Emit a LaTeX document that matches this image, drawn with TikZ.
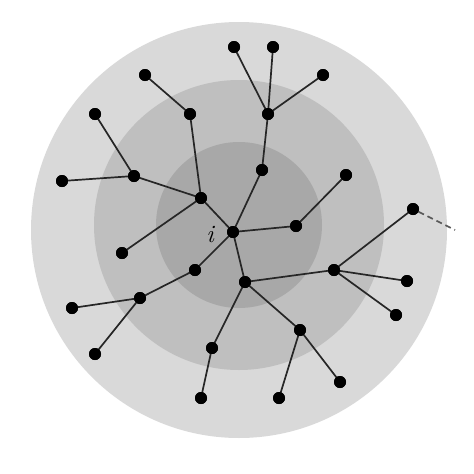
\documentclass[tikz,border=0pt]{standalone}
\begin{document}
\begin{tikzpicture}[x=1pt,y=-1pt,
  dot/.style={circle,fill=black,inner sep=0pt,minimum size=12pt},
  edge/.style={draw=black!85,line width=1.7pt},
  ring/.style={draw=none}]
\useasboundingbox (0,0) rectangle (474,474);
\fill[white] (0,0) rectangle (474,474);
\fill[ring,fill=black!15] (239,230) circle (208);
\fill[ring,fill=black!25] (239,225) circle (145);
\fill[ring,fill=black!34] (239,225) circle (83);
% nodes
\node[dot] (c) at (233,232) {};
\node[dot] (A) at (201,198) {};
\node[dot] (B) at (134,176) {};
\node[dot] (C) at (62,181) {};
\node[dot] (D) at (95,114) {};
\node[dot] (E) at (190,114) {};
\node[dot] (F) at (145,75) {};
\node[dot] (G) at (262,170) {};
\node[dot] (H) at (268,114) {};
\node[dot] (I1) at (234,47) {};
\node[dot] (I2) at (273,47) {};
\node[dot] (I3) at (323,75) {};
\node[dot] (J) at (296,226) {};
\node[dot] (K) at (346,175) {};
\node[dot] (L) at (122,253) {};
\node[dot] (M) at (195,270) {};
\node[dot] (N) at (140,298) {};
\node[dot] (O) at (72,308) {};
\node[dot] (P) at (95,354) {};
\node[dot] (Q) at (245,282) {};
\node[dot] (R) at (212,348) {};
\node[dot] (S) at (201,398) {};
\node[dot] (T) at (334,270) {};
\node[dot] (U) at (407,281) {};
\node[dot] (V) at (396,315) {};
\node[dot] (W) at (413,209) {};
\node[dot] (X) at (300,330) {};
\node[dot] (Y) at (279,398) {};
\node[dot] (Z) at (340,382) {};
\coordinate (Wend) at (455,230);
\node (lab) at (210,234) {\fontsize{25}{25}\selectfont\itshape i};
% edges
\draw[edge] (c.center) -- (A.center) (A.center) -- (B.center) (B.center) -- (C.center) (B.center) -- (D.center)
  (A.center) -- (E.center) (E.center) -- (F.center) (A.center) -- (L.center)
  (c.center) -- (G.center) (G.center) -- (H.center) (H.center) -- (I1.center) (H.center) -- (I2.center) (H.center) -- (I3.center)
  (c.center) -- (J.center) (J.center) -- (K.center)
  (c.center) -- (M.center) (M.center) -- (N.center) (N.center) -- (O.center) (N.center) -- (P.center)
  (c.center) -- (Q.center) (Q.center) -- (R.center) (R.center) -- (S.center)
  (Q.center) -- (T.center) (T.center) -- (U.center) (T.center) -- (V.center) (T.center) -- (W.center)
  (Q.center) -- (X.center) (X.center) -- (Y.center) (X.center) -- (Z.center);
\draw[edge,line width=1.6pt,dash pattern=on 6pt off 4pt,draw=black!65] (W) -- (Wend);
% redraw dots on top
\foreach \n in {c,A,B,C,D,E,F,G,H,I1,I2,I3,J,K,L,M,N,O,P,Q,R,S,T,U,V,W,X,Y,Z}
  \fill[black] (\n.center) circle (6);
\end{tikzpicture}
\end{document}
